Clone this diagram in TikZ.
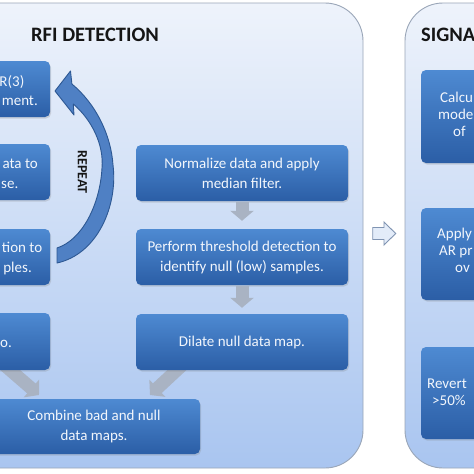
\documentclass[tikz,border=0pt]{standalone}
\usepackage{fontspec}
\setmainfont{Carlito}
\usetikzlibrary{arrows.meta,shadows}
\definecolor{panelTop}{HTML}{EEF3FB}
\definecolor{panelBot}{HTML}{A9C5F0}
\definecolor{panelEdge}{HTML}{9AA6B8}
\definecolor{boxTop}{HTML}{4E8AD2}
\definecolor{boxBot}{HTML}{2B5EA6}
\definecolor{boxText}{HTML}{F2F6FC}
\definecolor{arrowGray}{HTML}{A9B3C3}
\definecolor{curveFill}{HTML}{4F80C4}
\definecolor{curveEdge}{HTML}{2D5893}
\definecolor{hollowFill}{HTML}{E3ECF9}
\definecolor{hollowEdge}{HTML}{8094B2}
\definecolor{titleInk}{HTML}{151515}
\tikzset{
  panel/.style={draw=panelEdge, line width=0.9pt, rounded corners=38pt, top color=panelTop, bottom color=panelBot},
  bluebox/.style={rectangle, rounded corners=5pt, top color=boxTop, bottom color=boxBot, draw=none,
    minimum width=212pt, inner sep=0pt, align=center, text=boxText,
    font=\fontsize{15}{20}\selectfont,
    drop shadow={opacity=0.25, shadow xshift=1pt, shadow yshift=-1.5pt}},
  frag/.style={text=boxText, font=\fontsize{15}{20}\selectfont, inner sep=0pt},
  titletxt/.style={text=titleInk, font=\fontsize{20.5}{24}\selectfont\bfseries, inner sep=0pt},
  grayarrow/.style={draw=arrowGray, line width=13pt, -{Triangle[width=23pt,length=10pt]}},
  curvearrow/.style={fill=curveFill, draw=curveEdge, line width=0.9pt, line join=round},
  hollowarrow/.style={fill=hollowFill, draw=hollowEdge, line width=0.9pt, line join=miter}
}
\begin{document}
\begin{tikzpicture}[x=1pt,y=-1pt]
\useasboundingbox (0,0) rectangle (474,474);
\clip (0,0) rectangle (474,474);
\fill[white] (0,0) rectangle (474,474);

% panels
\draw[panel] (-45,3) rectangle (363,468);
\draw[panel] (405,3) rectangle (530,468);

% gray connector arrows (drawn under boxes)
\coordinate (d1s) at (-6,356);
\coordinate (d1e) at (39,395);
\coordinate (d2s) at (192,356);
\coordinate (d2e) at (150,395);
\draw[grayarrow] (d1s) -- (d1e);
\draw[grayarrow] (d2s) -- (d2e);

% left column boxes (mostly off the page)
\node[bluebox, minimum height=56pt] (L1) at (-56,89) {};
\node[bluebox, minimum height=56pt] (L2) at (-56,172) {};
\node[bluebox, minimum height=56pt] (L3) at (-56,257) {};
\node[bluebox, minimum height=57pt] (L4) at (-56,341.5) {};

% middle column boxes
\node[bluebox, minimum height=56pt] (M1) at (242,173) {Normalize data and apply\\median filter.};
\node[bluebox, minimum height=56pt] (M2) at (242,257) {Perform threshold detection to\\identify null (low) samples.};
\node[bluebox, minimum height=56pt] (M3) at (242,342) {Dilate null data map.};

% combine box
\node[bluebox, minimum height=55pt] (C) at (94,426.5) {Combine bad and null\\data maps.};

% right column boxes
\node[bluebox, minimum height=93pt] (R1) at (527,116.5) {};
\node[bluebox, minimum height=92pt] (R2) at (527,254) {};
\node[bluebox, minimum height=92pt] (R3) at (527,393) {};

% middle down arrows
\draw[grayarrow, shorten <=1pt, shorten >=8pt] (M1.south) -- (M2.north);
\draw[grayarrow, shorten <=1pt, shorten >=6pt] (M2.south) -- (M3.north);

% titles
\node[titletxt, anchor=base west] (t1) at (31,41) {RFI DETECTION};
\node[titletxt, anchor=base west] (t2) at (421,41) {SIGNA};

% left fragments
\node[frag, anchor=base east] (f1) at (24.5,86) {R(3)};
\node[frag, anchor=base east] (f2) at (38,105) {ment.};
\node[frag, anchor=base east] (f3) at (38,168) {ata to};
\node[frag, anchor=base east] (f4) at (18.5,188) {se.};
\node[frag, anchor=base east] (f5) at (42.5,252) {tion to};
\node[frag, anchor=base east] (f6) at (32,272) {ples.};
\node[frag, anchor=base east] (f7) at (12,347) {o.};

% right fragments
\node[frag, anchor=base west] (g1) at (440,102) {Calcu};
\node[frag, anchor=base west] (g2) at (438,119) {mode};
\node[frag, anchor=base west] (g3) at (453,136) {of};
\node[frag, anchor=base west] (g4) at (437,238) {Apply};
\node[frag, anchor=base west] (g5) at (439,255) {AR pr};
\node[frag, anchor=base west] (g6) at (455,272) {ov};
\node[frag, anchor=base west] (g7) at (427,388) {Revert};
\node[frag, anchor=base west] (g8) at (432,405) {>50\%};

% curved REPEAT arrow
\draw[curvearrow] (57,263) .. controls (98,254) and (118,205) .. (113,165)
  .. controls (111,135) and (96,104) .. (71.9,84) -- (70.5,71) -- (55,91) -- (74,115) -- (73.3,104)
  .. controls (92,120) and (104,145) .. (102,168)
  .. controls (100,205) and (82,240) .. (57,248) -- cycle;
\node[text=titleInk, font=\fontsize{14}{16}\selectfont\bfseries, rotate=-90, inner sep=0pt] (rep) at (82.5,172) {REPEAT};

% hollow right arrow between panels
\draw[hollowarrow] (372.7,227.5) -- (384,227.5) -- (384,222) -- (395.7,233.5) -- (384,245) -- (384,239.5) -- (372.7,239.5) -- cycle;
\end{tikzpicture}
\end{document}
